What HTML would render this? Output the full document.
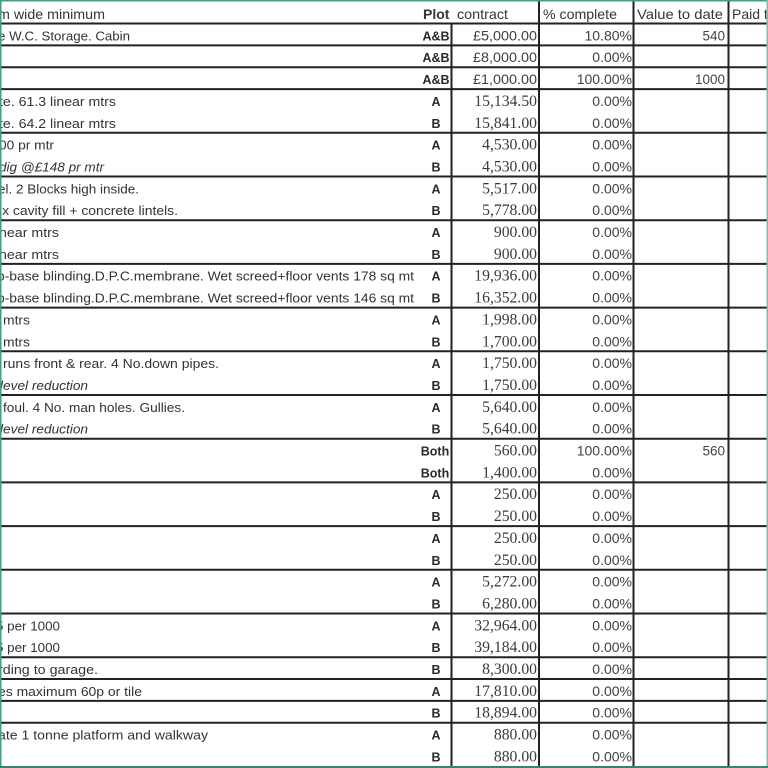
<!DOCTYPE html>
<html><head><meta charset="utf-8"><style>
html,body{margin:0;padding:0;background:#fff;width:768px;height:768px;overflow:hidden}
svg{display:block}
.t{font-family:"Liberation Sans",sans-serif;font-size:13px;fill:#333}
.i{font-style:italic}
.p{font-family:"Liberation Sans",sans-serif;font-size:12.5px;font-weight:bold;fill:#2a2a2a;text-anchor:middle}
.s{font-family:"Liberation Serif",serif;font-size:15.7px;fill:#3a3a3a;text-anchor:end}
.c{font-family:"Liberation Sans",sans-serif;font-size:14px;fill:#404040;text-anchor:end}
.v{font-family:"Liberation Sans",sans-serif;font-size:13.5px;fill:#444;text-anchor:end}
.h{font-family:"Liberation Sans",sans-serif;font-size:14px;fill:#353535}
</style></head><body>
<svg width="768" height="768" viewBox="0 0 768 768" xmlns="http://www.w3.org/2000/svg">
<rect width="768" height="768" fill="#fff"/>
<!-- header -->
<text class="h" x="-2" y="19" font-size="13" textLength="107" lengthAdjust="spacingAndGlyphs">m wide minimum</text>
<text class="h" x="423" y="19" font-size="13" font-weight="bold">Plot</text>
<text class="h" x="457" y="19" textLength="51" lengthAdjust="spacingAndGlyphs">contract</text>
<text class="h" x="543" y="19" textLength="74" lengthAdjust="spacingAndGlyphs">% complete</text>
<text class="h" x="637" y="19" textLength="86" lengthAdjust="spacingAndGlyphs">Value to date</text>
<text class="h" x="732" y="19">Paid to date</text>

<!-- left text -->
<g class="t">
<text x="-2" y="40.3" textLength="132" lengthAdjust="spacingAndGlyphs">e W.C. Storage. Cabin</text>
<text x="-1" y="105.9" textLength="117" lengthAdjust="spacingAndGlyphs">te. 61.3 linear mtrs</text>
<text x="-1" y="127.8" textLength="117" lengthAdjust="spacingAndGlyphs">te. 64.2 linear mtrs</text>
<text x="-1" y="149.6" textLength="55" lengthAdjust="spacingAndGlyphs">00 pr mtr</text>
<text class="i" x="-1" y="171.5" textLength="105" lengthAdjust="spacingAndGlyphs">dig @£148 pr mtr</text>
<text x="-2" y="193.3" textLength="141" lengthAdjust="spacingAndGlyphs">el. 2 Blocks high inside.</text>
<text x="-1" y="215.2" textLength="179" lengthAdjust="spacingAndGlyphs">ix cavity fill + concrete lintels.</text>
<text x="-1" y="237" textLength="60" lengthAdjust="spacingAndGlyphs">near mtrs</text>
<text x="-1" y="258.9" textLength="60" lengthAdjust="spacingAndGlyphs">near mtrs</text>
<text x="-3" y="280.7" textLength="417" lengthAdjust="spacingAndGlyphs">b-base blinding.D.P.C.membrane. Wet screed+floor vents 178 sq mt</text>
<text x="-3" y="302.6" textLength="417" lengthAdjust="spacingAndGlyphs">b-base blinding.D.P.C.membrane. Wet screed+floor vents 146 sq mt</text>
<text x="3" y="324.4" textLength="27" lengthAdjust="spacingAndGlyphs">mtrs</text>
<text x="3" y="346.3" textLength="27" lengthAdjust="spacingAndGlyphs">mtrs</text>
<text x="3" y="368.1" textLength="216" lengthAdjust="spacingAndGlyphs">runs front &amp; rear. 4 No.down pipes.</text>
<text class="i" x="0" y="390" textLength="88" lengthAdjust="spacingAndGlyphs">level reduction</text>
<text x="3" y="411.8" textLength="182" lengthAdjust="spacingAndGlyphs">foul. 4 No. man holes. Gullies.</text>
<text class="i" x="0" y="433.7" textLength="88" lengthAdjust="spacingAndGlyphs">level reduction</text>
<text x="-4" y="630.3" textLength="64" lengthAdjust="spacingAndGlyphs">5 per 1000</text>
<text x="-4" y="652.2" textLength="64" lengthAdjust="spacingAndGlyphs">5 per 1000</text>
<text x="-2" y="674" textLength="100" lengthAdjust="spacingAndGlyphs">rding to garage.</text>
<text x="-2" y="695.9" textLength="144" lengthAdjust="spacingAndGlyphs">es maximum 60p or tile</text>
<text x="-2" y="739.6" textLength="210" lengthAdjust="spacingAndGlyphs">ate 1 tonne platform and walkway</text>
</g>

<!-- plot column -->
<g class="p">
<text x="436" y="40.3">A&amp;B</text>
<text x="436" y="62.2">A&amp;B</text>
<text x="436" y="84">A&amp;B</text>
<text x="436" y="105.9">A</text>
<text x="436" y="127.8">B</text>
<text x="436" y="149.6">A</text>
<text x="436" y="171.5">B</text>
<text x="436" y="193.3">A</text>
<text x="436" y="215.2">B</text>
<text x="436" y="237">A</text>
<text x="436" y="258.9">B</text>
<text x="436" y="280.7">A</text>
<text x="436" y="302.6">B</text>
<text x="436" y="324.4">A</text>
<text x="436" y="346.3">B</text>
<text x="436" y="368.1">A</text>
<text x="436" y="390">B</text>
<text x="436" y="411.8">A</text>
<text x="436" y="433.7">B</text>
<text x="435" y="455.5">Both</text>
<text x="435" y="477.4">Both</text>
<text x="436" y="499.2">A</text>
<text x="436" y="521.1">B</text>
<text x="436" y="542.9">A</text>
<text x="436" y="564.8">B</text>
<text x="436" y="586.6">A</text>
<text x="436" y="608.5">B</text>
<text x="436" y="630.3">A</text>
<text x="436" y="652.2">B</text>
<text x="436" y="674">B</text>
<text x="436" y="695.9">A</text>
<text x="436" y="717.7">B</text>
<text x="436" y="739.6">A</text>
<text x="436" y="761.4">B</text>
</g>

<!-- contract column -->
<g class="c">
<text x="537" y="40.3" textLength="64" lengthAdjust="spacingAndGlyphs">£5,000.00</text>
<text x="537" y="62.2" textLength="64" lengthAdjust="spacingAndGlyphs">£8,000.00</text>
<text x="537" y="84" textLength="64" lengthAdjust="spacingAndGlyphs">£1,000.00</text>
</g>
<g class="s">
<text x="537" y="105.9">15,134.50</text>
<text x="537" y="127.8">15,841.00</text>
<text x="537" y="149.6">4,530.00</text>
<text x="537" y="171.5">4,530.00</text>
<text x="537" y="193.3">5,517.00</text>
<text x="537" y="215.2">5,778.00</text>
<text x="537" y="237">900.00</text>
<text x="537" y="258.9">900.00</text>
<text x="537" y="280.7">19,936.00</text>
<text x="537" y="302.6">16,352.00</text>
<text x="537" y="324.4">1,998.00</text>
<text x="537" y="346.3">1,700.00</text>
<text x="537" y="368.1">1,750.00</text>
<text x="537" y="390">1,750.00</text>
<text x="537" y="411.8">5,640.00</text>
<text x="537" y="433.7">5,640.00</text>
<text x="537" y="455.5">560.00</text>
<text x="537" y="477.4">1,400.00</text>
<text x="537" y="499.2">250.00</text>
<text x="537" y="521.1">250.00</text>
<text x="537" y="542.9">250.00</text>
<text x="537" y="564.8">250.00</text>
<text x="537" y="586.6">5,272.00</text>
<text x="537" y="608.5">6,280.00</text>
<text x="537" y="630.3">32,964.00</text>
<text x="537" y="652.2">39,184.00</text>
<text x="537" y="674">8,300.00</text>
<text x="537" y="695.9">17,810.00</text>
<text x="537" y="717.7">18,894.00</text>
<text x="537" y="739.6">880.00</text>
<text x="537" y="761.4">880.00</text>
</g>

<!-- percent column -->
<g class="c">
<text x="632" y="40.3">10.80%</text>
<text x="632" y="62.2">0.00%</text>
<text x="632" y="84">100.00%</text>
<text x="632" y="105.9">0.00%</text>
<text x="632" y="127.8">0.00%</text>
<text x="632" y="149.6">0.00%</text>
<text x="632" y="171.5">0.00%</text>
<text x="632" y="193.3">0.00%</text>
<text x="632" y="215.2">0.00%</text>
<text x="632" y="237">0.00%</text>
<text x="632" y="258.9">0.00%</text>
<text x="632" y="280.7">0.00%</text>
<text x="632" y="302.6">0.00%</text>
<text x="632" y="324.4">0.00%</text>
<text x="632" y="346.3">0.00%</text>
<text x="632" y="368.1">0.00%</text>
<text x="632" y="390">0.00%</text>
<text x="632" y="411.8">0.00%</text>
<text x="632" y="433.7">0.00%</text>
<text x="632" y="455.5">100.00%</text>
<text x="632" y="477.4">0.00%</text>
<text x="632" y="499.2">0.00%</text>
<text x="632" y="521.1">0.00%</text>
<text x="632" y="542.9">0.00%</text>
<text x="632" y="564.8">0.00%</text>
<text x="632" y="586.6">0.00%</text>
<text x="632" y="608.5">0.00%</text>
<text x="632" y="630.3">0.00%</text>
<text x="632" y="652.2">0.00%</text>
<text x="632" y="674">0.00%</text>
<text x="632" y="695.9">0.00%</text>
<text x="632" y="717.7">0.00%</text>
<text x="632" y="739.6">0.00%</text>
<text x="632" y="761.4">0.00%</text>
</g>

<!-- value column -->
<g class="v">
<text x="725" y="40.3">540</text>
<text x="725" y="84">1000</text>
<text x="725" y="455.5">560</text>
</g>

<!-- horizontal lines -->
<g stroke="#222" stroke-width="2">
<line x1="0" x2="768" y1="23.5" y2="23.5"/>
<line x1="0" x2="768" y1="45.4" y2="45.4"/>
<line x1="0" x2="768" y1="67.2" y2="67.2"/>
<line x1="0" x2="768" y1="89.1" y2="89.1"/>
<line x1="0" x2="768" y1="132.8" y2="132.8"/>
<line x1="0" x2="768" y1="176.5" y2="176.5"/>
<line x1="0" x2="768" y1="220.2" y2="220.2"/>
<line x1="0" x2="768" y1="263.9" y2="263.9"/>
<line x1="0" x2="768" y1="307.6" y2="307.6"/>
<line x1="0" x2="768" y1="351.3" y2="351.3"/>
<line x1="0" x2="768" y1="395" y2="395"/>
<line x1="0" x2="768" y1="438.7" y2="438.7"/>
<line x1="0" x2="768" y1="482.4" y2="482.4"/>
<line x1="0" x2="768" y1="526.1" y2="526.1"/>
<line x1="0" x2="768" y1="569.8" y2="569.8"/>
<line x1="0" x2="768" y1="613.5" y2="613.5"/>
<line x1="0" x2="768" y1="657.2" y2="657.2"/>
<line x1="0" x2="768" y1="679" y2="679"/>
<line x1="0" x2="768" y1="700.9" y2="700.9"/>
<line x1="0" x2="768" y1="722.7" y2="722.7"/>
</g>
<!-- vertical lines -->
<g stroke="#222" stroke-width="2">
<line x1="451.5" x2="451.5" y1="23.5" y2="766"/>
<line x1="539" x2="539" y1="0" y2="766"/>
<line x1="633.5" x2="633.5" y1="0" y2="766"/>
<line x1="728.5" x2="728.5" y1="0" y2="766"/>
</g>
<!-- teal frame -->
<rect x="0" y="0" width="768" height="1.5" fill="#4a9a88"/>
<rect x="0" y="0" width="1.5" height="768" fill="#4a9a88"/>
<rect x="766.5" y="0" width="1.5" height="768" fill="#7fbcae"/>
<rect x="0" y="766" width="768" height="2" fill="#3d7f70"/>
</svg>
</body></html>
